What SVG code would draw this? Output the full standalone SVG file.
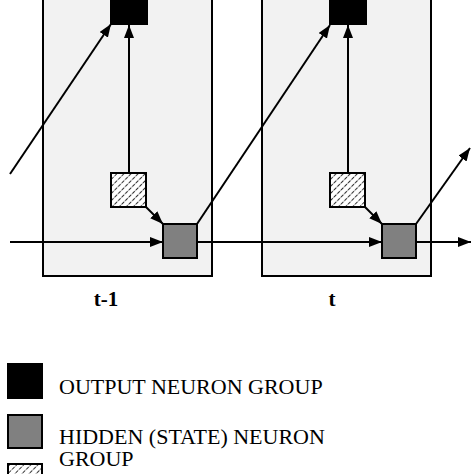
<svg xmlns="http://www.w3.org/2000/svg" width="474" height="474" viewBox="0 0 474 474">
<style>
.panel{fill:#f2f2f2;stroke:#000;stroke-width:2}
.out{fill:#000;stroke:#000;stroke-width:2}
.hid{fill:#808080;stroke:#000;stroke-width:2}
.hat{fill:url(#hatch);stroke:#000;stroke-width:2}
.c{stroke:#000;stroke-width:2;fill:none;marker-end:url(#ah)}
.lbl{font-family:"Liberation Serif",serif;font-weight:bold;font-size:21px;text-anchor:middle}
.leg{font-family:"Liberation Serif",serif;font-size:22px}
</style>
<defs>
<pattern id="hatch" patternUnits="userSpaceOnUse" width="5" height="5" patternTransform="rotate(45)">
<rect width="5" height="5" fill="#fff"/>
<line x1="0" y1="0" x2="0" y2="5" stroke="#000" stroke-width="1.6" stroke-dasharray="3.5,1.2"/>
</pattern>
<marker id="ah" markerWidth="13" markerHeight="10" refX="13" refY="5" orient="auto" markerUnits="userSpaceOnUse">
<path d="M0,0 L13,5 L0,10 z" fill="#000"/>
</marker>
</defs>
<rect x="0" y="0" width="474" height="474" fill="#fff"/>
<g id="panel-t-1"><rect class="panel" x="43" y="-5" width="169" height="281"/></g>
<g id="panel-t"><rect class="panel" x="262" y="-5" width="169" height="281"/></g>
<g id="connectors">
<line class="c" x1="10" y1="174" x2="111" y2="24"/>
<line class="c" x1="129" y1="173" x2="129" y2="25"/>
<line class="c" x1="146" y1="207" x2="163" y2="224"/>
<line class="c" x1="10" y1="242" x2="163" y2="242"/>
<line class="c" x1="197" y1="224" x2="330" y2="25"/>
<line class="c" x1="197" y1="242" x2="382" y2="242"/>
<line class="c" x1="348" y1="173" x2="348" y2="25"/>
<line class="c" x1="365" y1="207" x2="382" y2="224"/>
<line class="c" x1="416" y1="224" x2="470" y2="148"/>
<line class="c" x1="416" y1="242" x2="471" y2="242"/>
</g>
<g id="out1"><rect class="out" x="111" y="-5" width="36" height="29"/></g>
<g id="hat1"><rect class="hat" x="111" y="173" width="35" height="34"/></g>
<g id="hid1"><rect class="hid" x="163" y="224" width="34" height="34"/></g>
<g id="out2"><rect class="out" x="330" y="-5" width="36" height="29"/></g>
<g id="hat2"><rect class="hat" x="330" y="173" width="35" height="34"/></g>
<g id="hid2"><rect class="hid" x="382" y="224" width="34" height="34"/></g>
<text class="lbl" x="106" y="306">t-1</text>
<text class="lbl" x="332" y="306">t</text>
<g id="legend-output"><rect class="out" x="8" y="364" width="34" height="34"/><text class="leg" x="59" y="394">OUTPUT NEURON GROUP</text></g>
<g id="legend-hidden"><rect class="hid" x="8" y="415" width="34" height="33"/><text class="leg" x="59" y="444">HIDDEN (STATE) NEURON</text><text class="leg" x="59" y="466">GROUP</text></g>
<g id="legend-hatch"><rect class="hat" x="8" y="464" width="34" height="20"/></g>
</svg>
